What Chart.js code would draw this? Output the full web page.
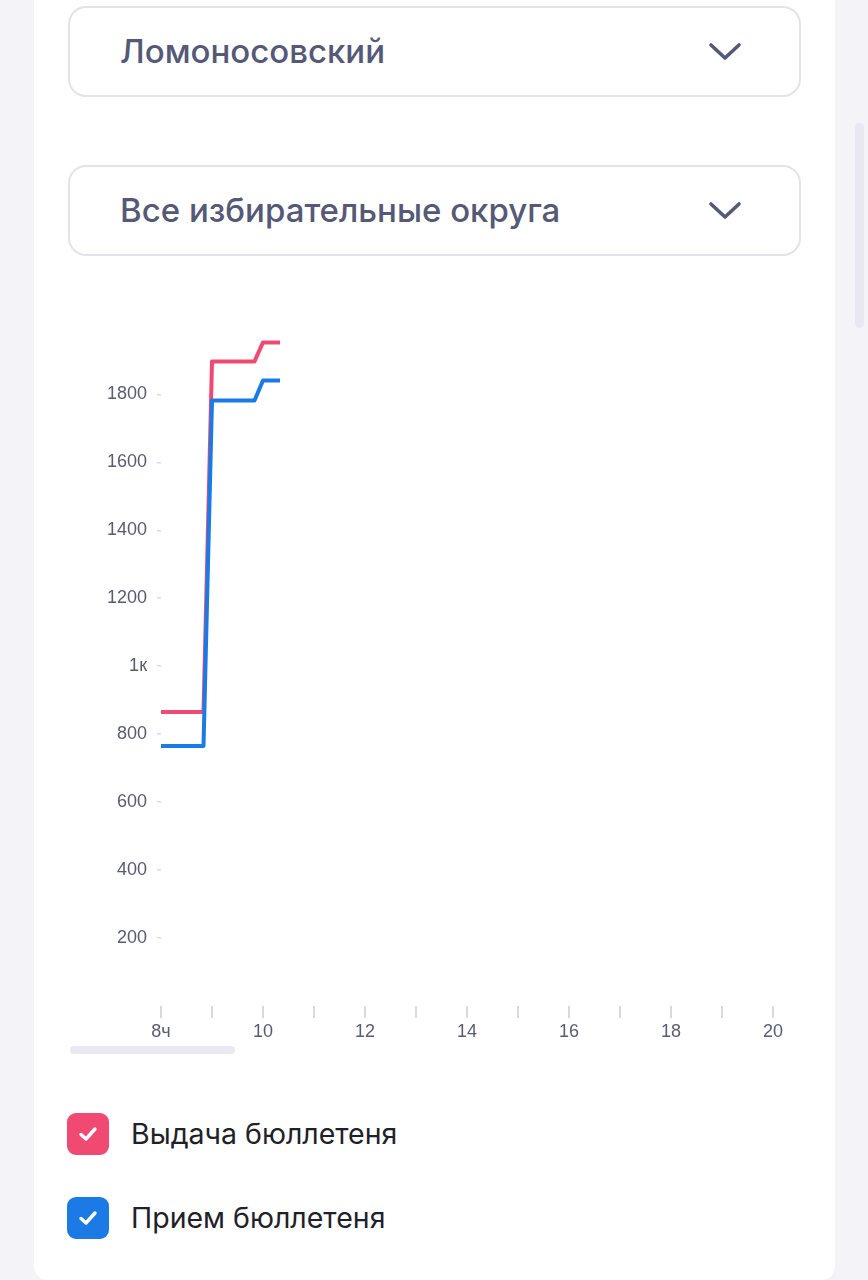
<!DOCTYPE html>
<html lang="ru">
<head>
<meta charset="utf-8">
<title>Явка</title>
<script src="https://cdn.jsdelivr.net/npm/chart.js@4.4.1/dist/chart.umd.min.js"></script>
<style>
    html, body { margin: 0; padding: 0; }
    body { width: 868px; height: 1280px; background: #f4f4f8; position: relative; overflow: hidden; font-family: Inter, "Noto Sans", sans-serif; }
    .card { position: absolute; left: 34px; top: -20px; width: 801px; height: 1300px; background: #fff; border-radius: 14px; }
    .select { position: absolute; left: 68px; width: 729px; height: 87px; border: 2px solid #e3e3ea; border-radius: 18px; background: #fff; }
    .select span { position: absolute; left: 50px; top: 0; line-height: 87px; font-size: 33px; font-weight: 500; color: #555977; white-space: nowrap; }
    .select svg { position: absolute; left: 638px; top: 34px; }
    #chartWrap { position: absolute; left: 34px; top: 300px; width: 800px; height: 760px; }
    .hscroll { position: absolute; left: 70px; top: 1046px; width: 165px; height: 8px; border-radius: 4px; background: #e9e9f4; }
    .vscroll { position: absolute; left: 855px; top: 123px; width: 9px; height: 205px; border-radius: 5px; background: #e8e8f2; }
    .legend-item { position: absolute; left: 67px; height: 42px; }
    .legend-item .box { position: absolute; left: 0; top: 0; width: 42px; height: 42px; border-radius: 9px; }
    .legend-item .box svg { position: absolute; left: 11px; top: 12px; }
    .legend-item span { position: absolute; left: 64px; top: 0; line-height: 42px; font-size: 28.5px; color: #1f2129; white-space: nowrap; }
</style>
</head>
<body>
<div class="card"></div>

<div class="select" style="top:6px">
    <span>Ломоносовский</span>
    <svg width="34" height="20" viewBox="0 0 34 20"><path d="M3 3 L17 16 L31 3" fill="none" stroke="#555977" stroke-width="3.6" stroke-linecap="round" stroke-linejoin="round"/></svg>
</div>
<div class="select" style="top:165px">
    <span>Все избирательные округа</span>
    <svg width="34" height="20" viewBox="0 0 34 20"><path d="M3 3 L17 16 L31 3" fill="none" stroke="#555977" stroke-width="3.6" stroke-linecap="round" stroke-linejoin="round"/></svg>
</div>

<div id="chartWrap"><canvas id="turnoutChart" width="800" height="760"></canvas></div>
<div class="hscroll"></div>
<div class="vscroll"></div>

<div class="legend-item" style="top:1113px">
    <div class="box" style="background:#f04a72">
        <svg width="20" height="18" viewBox="0 0 20 18"><path d="M3 9.5 L8 14 L17 4" fill="none" stroke="#fff" stroke-width="3.4" stroke-linecap="round" stroke-linejoin="round"/></svg>
    </div>
    <span>Выдача бюллетеня</span>
</div>
<div class="legend-item" style="top:1197px">
    <div class="box" style="background:#1c7ae6">
        <svg width="20" height="18" viewBox="0 0 20 18"><path d="M3 9.5 L8 14 L17 4" fill="none" stroke="#fff" stroke-width="3.4" stroke-linecap="round" stroke-linejoin="round"/></svg>
    </div>
    <span>Прием бюллетеня</span>
</div>

<script>
// moments of the readings (every 10 minutes from the opening)
const times = ['8:00', '8:10', '8:20', '8:30', '8:40', '8:50', '9:00', '9:10', '9:20', '9:30', '9:40', '9:50', '10:00', '10:10', '10:20'];
// ballots issued
const issued = [865, 865, 865, 865, 865, 865, 1897, 1897, 1897, 1897, 1897, 1897, 1953, 1953, 1953];
// ballots received
const received = [765, 765, 765, 765, 765, 765, 1782, 1782, 1782, 1782, 1782, 1782, 1841, 1841, 1841];
// y axis ticks shown on the left
const yTicks = [200, 400, 600, 800, 1000, 1200, 1400, 1600, 1800];
const yLabels = { 1000: '1к' };
// x axis hours, first one marked with "ч"
const hourLabels = { 8: '8ч', 10: '10', 12: '12', 14: '14', 16: '16', 18: '18', 20: '20' };

const toHours = (t) => {
    const [h, m] = t.split(':').map(Number);
    return h + m / 60;
};
const toPoints = (values) => values.map((v, i) => ({ x: toHours(times[i]), y: v }));

const tickFont = { family: '"Liberation Sans", Arial, sans-serif', size: 18 };
const tickColor = '#585c73';

new Chart(document.getElementById('turnoutChart'), {
    type: 'line',
    data: {
        datasets: [
            {
                label: 'Выдача бюллетеня',
                data: toPoints(issued),
                borderColor: '#ef4a72',
                borderWidth: 4,
                pointRadius: 0,
                tension: 0,
                borderJoinStyle: 'round',
                order: 2
            },
            {
                label: 'Прием бюллетеня',
                data: toPoints(received),
                borderColor: '#1a7ae6',
                borderWidth: 4,
                pointRadius: 0,
                tension: 0,
                borderJoinStyle: 'round',
                order: 1
            }
        ]
    },
    options: {
        responsive: false,
        animation: false,
        layout: { padding: { top: 40, right: 61, bottom: 0, left: 0 } },
        plugins: { legend: { display: false }, tooltip: { enabled: false } },
        scales: {
            x: {
                type: 'linear',
                min: 8,
                max: 20,
                border: { display: false },
                grid: { drawOnChartArea: false, drawTicks: true, tickLength: 12, color: '#d9d9e2', lineWidth: 2 },
                ticks: {
                    stepSize: 1,
                    autoSkip: false,
                    maxRotation: 0,
                    padding: 3,
                    color: tickColor,
                    font: tickFont,
                    callback: (value) => hourLabels[value] || ''
                },
                afterFit: (scale) => { scale.height = 54; }
            },
            y: {
                min: 0,
                max: 1960,
                border: { display: false },
                grid: { drawOnChartArea: false, drawTicks: true, tickLength: 4, color: '#d9d9e2', lineWidth: 1.5 },
                ticks: {
                    autoSkip: false,
                    padding: 10,
                    color: tickColor,
                    font: tickFont,
                    callback: (value) => yLabels[value] || String(value)
                },
                afterBuildTicks: (scale) => {
                    scale.ticks = yTicks.map((v) => ({ value: v }));
                },
                afterFit: (scale) => { scale.width = 127; }
            }
        }
    }
});
</script>
</body>
</html>
